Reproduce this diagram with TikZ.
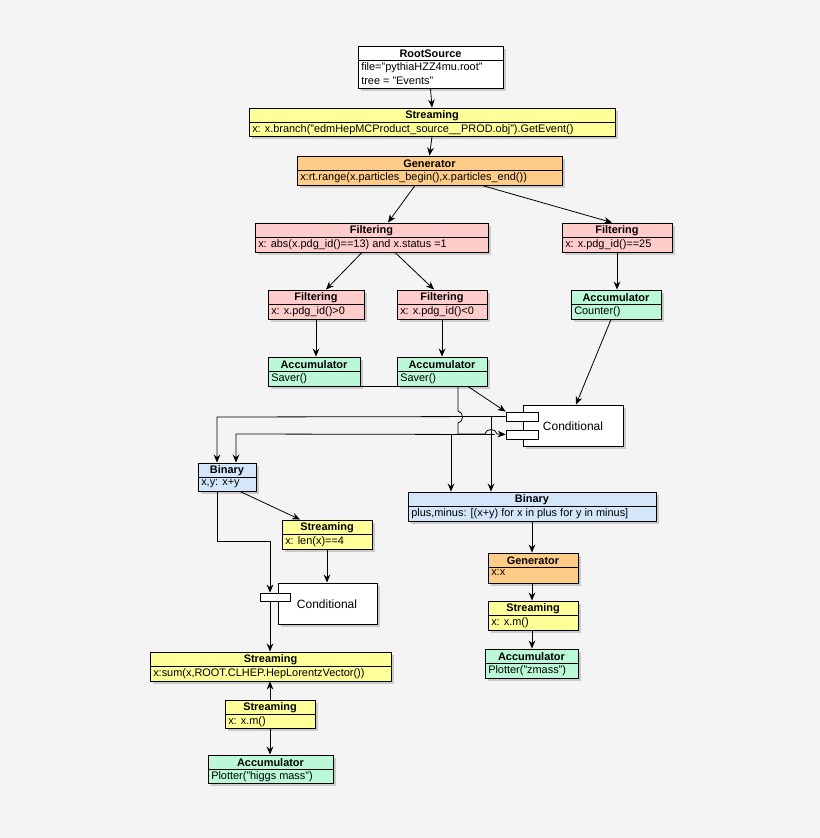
\documentclass[tikz,border=0pt]{standalone}
\usepackage{fontspec}
\setmainfont{Liberation Sans}
\usetikzlibrary{fit,arrows.meta,shadows}
\definecolor{bg}{HTML}{F4F4F4}
\definecolor{cyel}{HTML}{FFFF99}
\definecolor{corg}{HTML}{FFCC88}
\definecolor{cpnk}{HTML}{FFCCCC}
\definecolor{cgrn}{HTML}{BBF8D8}
\definecolor{cblu}{HTML}{D4E6FA}
\tikzset{
 ubox/.style={draw=black, line width=0.7pt, inner sep=0pt, drop shadow={shadow xshift=2pt,shadow yshift=-2pt,opacity=0.35}},
 ttl/.style={font=\fontsize{8.2}{9}\selectfont\bfseries, inner sep=0pt},
 bdy/.style={font=\fontsize{8.2}{10.5}\selectfont, inner sep=0pt, align=left, anchor=north west},
 conn/.style={line width=0.6pt, -{Stealth[length=6pt,width=5pt]}},
 plain/.style={line width=0.6pt},
 port/.style={draw, fill=white, line width=0.6pt, inner sep=0pt}
}
\newcommand\ubox[8]{%
 \node[ubox, fill=#6, fit={(#2,#3)(#4,#5)}] (#1) {};
 \draw[line width=0.6pt] (#2,#3+14) -- (#4,#3+14);
 \node[ttl] (#1-t) at ({(#2+#4)/2},#3+7.5) {#7};
 \node[bdy] (#1-b) at (#2+3,#3+16) {#8};}
\begin{document}
\begin{tikzpicture}[x=0.75pt,y=-0.75pt]
\fill[bg] (0,0) rectangle (820,838);
\useasboundingbox (0,0) rectangle (820,838);
\ubox{root}{358}{46}{503}{88}{white}{RootSource}{file="pythiaHZZ4mu.root"\\tree = "Events"}
\ubox{s1}{249}{108}{615}{136}{cyel}{Streaming}{x: x.branch("edmHepMCProduct\_source\_\_PROD.obj").GetEvent()}
\ubox{g1}{297}{156}{562}{185}{corg}{Generator}{x:rt.range(x.particles\_begin(),x.particles\_end())}
\ubox{f1}{255}{223}{488}{252}{cpnk}{Filtering}{x: abs(x.pdg\_id()==13) and x.status =1}
\ubox{f2}{562}{223}{672}{252}{cpnk}{Filtering}{x: x.pdg\_id()==25}
\ubox{f3}{268}{290}{364}{319}{cpnk}{Filtering}{x: x.pdg\_id()>0}
\ubox{f4}{397}{290}{487}{319}{cpnk}{Filtering}{x: x.pdg\_id()<0}
\ubox{cnt}{571}{290}{661}{319}{cgrn}{Accumulator}{Counter()}
\ubox{sv1}{268}{357}{360}{386}{cgrn}{Accumulator}{Saver()}
\ubox{sv2}{397}{357}{487}{386}{cgrn}{Accumulator}{Saver()}
\node[ubox, fill=white, fit={(523,405)(623,446)}] (c1) {};
\node[font=\fontsize{9}{10}\selectfont] (c1-t) at (573,426) {Conditional};
\node[port, fit={(506,412)(538,421)}] (p1) {};
\node[port, fit={(506,430)(538,439)}] (p2) {};
\ubox{b1}{198}{463}{256}{491}{cblu}{Binary}{x,y: x+y}
\ubox{b2}{408}{492}{656}{521}{cblu}{Binary}{plus,minus: [(x+y) for x in plus for y in minus]}
\ubox{sl}{282}{520}{372}{549}{cyel}{Streaming}{x: len(x)==4}
\node[ubox, fill=white, fit={(278,583)(377,624)}] (c2) {};
\node[font=\fontsize{9}{10}\selectfont] (c2-t) at (327,604) {Conditional};
\node[port, fit={(260,593)(290,601)}] (p3) {};
\ubox{g2}{488}{553}{578}{583}{corg}{Generator}{x:x}
\ubox{xm2}{488}{601}{578}{630}{cyel}{Streaming}{x: x.m()}
\ubox{zm}{485}{649}{578}{678}{cgrn}{Accumulator}{Plotter("zmass")}
\ubox{sum}{150}{652}{391}{681}{cyel}{Streaming}{x:sum(x,ROOT.CLHEP.HepLorentzVector())}
\ubox{xm1}{225}{700}{315}{728}{cyel}{Streaming}{x: x.m()}
\ubox{hg}{208}{755}{333}{783}{cgrn}{Accumulator}{Plotter("higgs mass")}
% connectors
\draw[conn] (root.south) -- (s1.north);
\draw[conn] (s1.south) -- (g1.north);
\draw[conn] (g1.south -| 415,0) -- (f1.north -| 388,0);
\draw[conn] (g1.south -| 482,0) -- (f2.north -| 612,0);
\draw[conn] (f1.south -| 362,0) -- (f3.north -| 326,0);
\draw[conn] (f1.south -| 395,0) -- (f4.north -| 434,0);
\draw[conn] (f2.south -| 617,0) -- (cnt.north -| 617,0);
\draw[conn] (f3.south -| 316,0) -- (sv1.north -| 316,0);
\draw[conn] (f4.south -| 442,0) -- (sv2.north -| 442,0);
\draw[conn] (cnt.south -| 611,0) -- (c1.north -| 576,0);
\draw[conn] (sv2.south -| 468,0) -- (p1.north west);
\draw[plain] (sv1.south east) -- (sv2.south west);
\draw[conn] (sv2.south -| 458,0) -- (458,411) .. controls (464,412) and (464,422) .. (458,423) -- (458,434) -- (485,434) .. controls (486,428) and (496,428) .. (497,434) -- (p2.west);
\draw[conn] (p1.west) -- (217,417) -- (b1.north -| 217,0);
\draw[conn] (p2.west) ++(-11,0) -- (236,434) -- (b1.north -| 236,0);
\draw[conn] (491,417) -- (b2.north -| 491,0);
\draw[conn] (451,434) -- (b2.north -| 451,0);
\draw[conn] (b1.south -| 240,0) -- (sl.north -| 300,0);
\draw[conn] (b1.south -| 217,0) -- (217,541) -- (270,541) -- (p3.north -| 270,0);
\draw[conn] (sl.south -| 327,0) -- (c2.north -| 327,0);
\draw[conn] (p3.south -| 270,0) -- (sum.north -| 270,0);
\draw[conn] (xm1.north -| 270,0) -- (sum.south -| 270,0);
\draw[conn] (xm1.south -| 270,0) -- (hg.north -| 270,0);
\draw[conn] (b2.south -| 532,0) -- (g2.north -| 532,0);
\draw[conn] (g2.south -| 532,0) -- (xm2.north -| 532,0);
\draw[conn] (xm2.south -| 532,0) -- (zm.north -| 532,0);
\end{tikzpicture}
\end{document}
